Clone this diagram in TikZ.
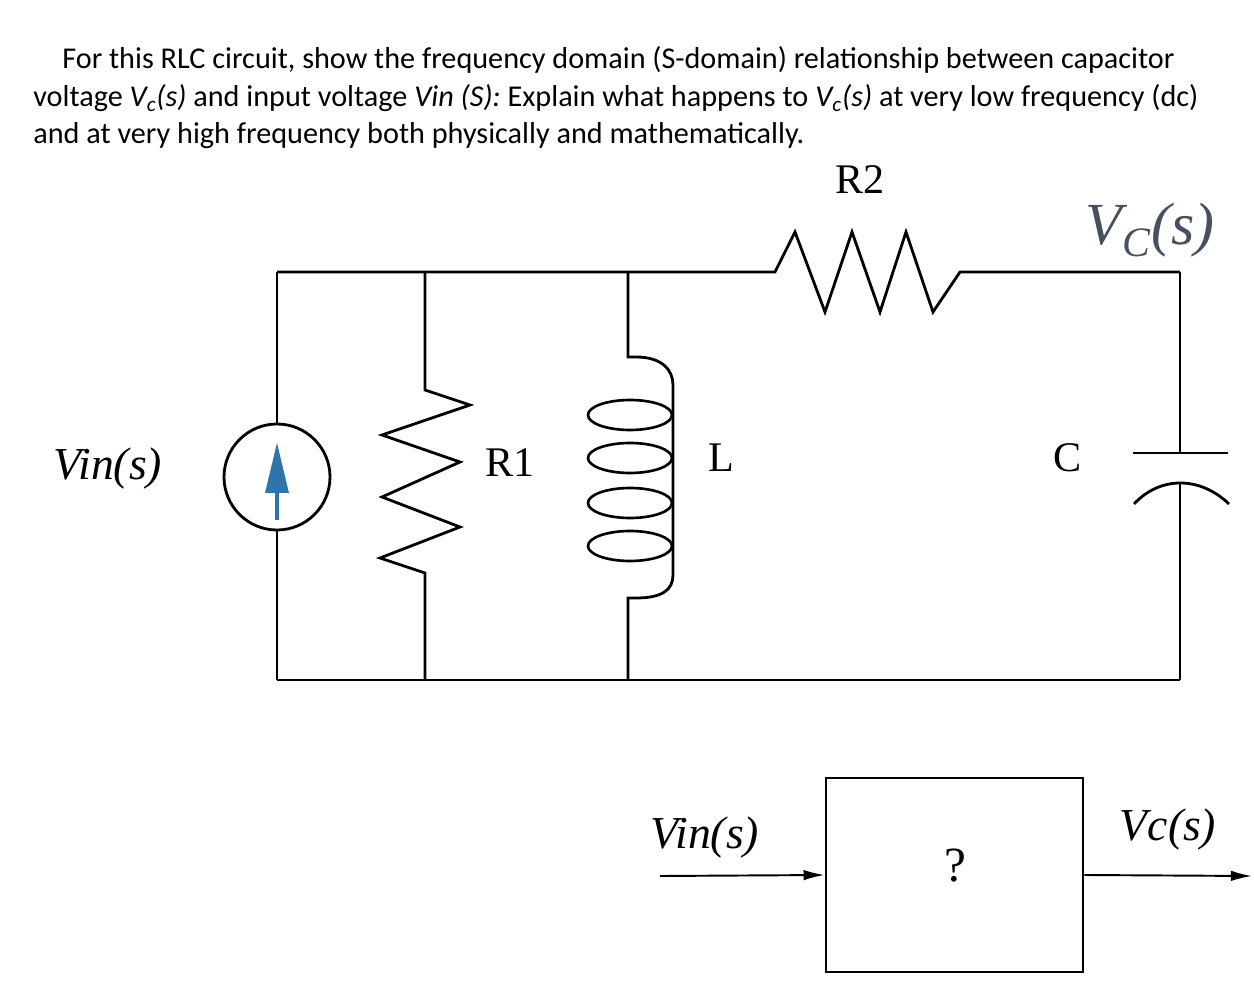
\documentclass[tikz,border=0pt]{standalone}
\usepackage{fontspec}
\setmainfont{Liberation Serif}
\newfontfamily\qfont{Carlito}
\usetikzlibrary{arrows.meta,positioning,decorations.pathmorphing}
\definecolor{srcblue}{RGB}{46,117,170}
\definecolor{vcgray}{RGB}{70,80,95}
\tikzstyle{wire} = [line width=1.6pt, black]
\tikzstyle{lbl} = [font=\fontsize{24}{28}\selectfont, inner sep=0pt]
\tikzstyle{ilbl} = [inner sep=0pt, font=\itshape\fontsize{26}{30}\selectfont]
\tikzstyle{qline} = [anchor=west,inner sep=0pt,font=\qfont\fontsize{17.2}{21}\selectfont]
\tikzstyle{sig} = [-{Latex[length=12pt,width=6pt]}, line width=1.1pt]
\begin{document}
\begin{tikzpicture}[x=0.02cm,y=-0.02cm]
  \useasboundingbox (0,0) rectangle (1254,996);

  % question text
  \node[qline] (q1) at (62,60) {For this RLC circuit, show the frequency domain (S-domain) relationship between capacitor};
  \node[qline] (q2) at (33,98) {voltage \textit{V\textsubscript{c}(s)} and input voltage \textit{Vin (S):} Explain what happens to \textit{V\textsubscript{c}(s)} at very low frequency (dc)};
  \node[qline] (q3) at (33,136) {and at very high frequency both physically and mathematically.};

  % corners and taps
  \coordinate (tl) at (277,272);
  \coordinate (bl) at (277,680);
  \coordinate (tr) at (1180,272);
  \coordinate (br) at (1180,680);
  \coordinate (r1t) at (425,272);
  \coordinate (r1b) at (425,680);
  \coordinate (lt) at (628,272);
  \coordinate (lb) at (628,680);
  \coordinate (r2a) at (775,272);
  \coordinate (r2b) at (960,272);

  % source
  \node[circle,draw,line width=1.6pt,minimum size=106*0.02cm,inner sep=0pt] (src) at (277,477) {};
  \fill[srcblue] (277,443) -- (289,493) -- (265,493) -- cycle;
  \draw[srcblue,line width=2pt] (277,490) -- (277,520);
  \draw[wire] (tl) -- (src.north);
  \draw[wire] (src.south) -- (bl);

  % R1
  \draw[wire] (r1t) -- (425,390) -- (470,405) -- (382,435) -- (460,462) -- (382,497)
    -- (460,527) -- (380,558) -- (425,573) -- (r1b);

  % L
  \draw[wire] (lt) -- (628,357) -- (636,357) .. controls (662,357) and (673,370) .. (673,385)
    -- (673,575) .. controls (673,590) and (662,598) .. (636,598) -- (628,598) -- (lb);
  \foreach \yy in {415,458,503,546}
    \draw[line width=1.5pt] (630,\yy) ellipse [x radius=42*0.02cm, y radius=15*0.02cm];

  % R2
  \draw[wire] (tl) -- (r2a) -- (795,232) -- (825,312) -- (852,232) -- (880,312)
    -- (906,232) -- (933,312) -- (r2b) -- (tr);

  % C
  \draw[wire] (tr) -- (1180,453);
  \draw[wire] (1133,453) -- (1228,453);
  \draw[wire] (1134,504) .. controls (1160,476) and (1200,476) .. (1229,504);
  \draw[wire] (1180,482) -- (br);

  % bottom rail
  \draw[wire] (bl) -- (br);

  % labels
  \node[ilbl] (vinl) at (108,469) {Vin(s)};
  \node[lbl] (r1l) at (510,463) {R1};
  \node[lbl] (ll) at (721,458) {L};
  \node[lbl] (cl) at (1068,458) {C};
  \node[lbl] (r2l) at (860,180) {R2};
  \node[inner sep=0pt,text=vcgray,font=\itshape\fontsize{34}{38}\selectfont] (vcl) at (1150,230) {V\textsubscript{C}(s)};

  % block diagram
  \node[draw,line width=1.6pt,minimum width=257*0.02cm,minimum height=194*0.02cm,inner sep=0pt] (blk) at (954.5,875) {};
  \node[lbl,font=\fontsize{28}{30}\selectfont] (qm) at (955,866) {?};
  \coordinate (inp) at (660,876);
  \coordinate (outp) at (1252,876);
  \draw[sig] (inp) -- (blk.west);
  \draw[sig] (blk.east) -- (outp);
  \node[ilbl] (vinb) at (705,838) {Vin(s)};
  \node[ilbl] (vcb) at (1168,830) {Vc(s)};
\end{tikzpicture}
\end{document}
